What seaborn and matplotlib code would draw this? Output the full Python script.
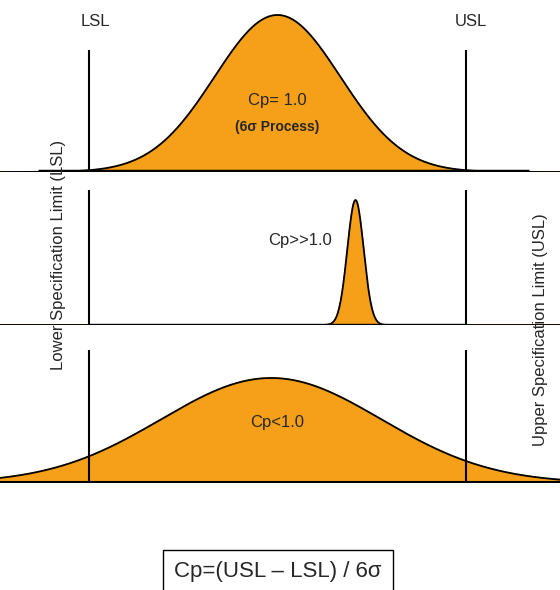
import numpy as np
import pandas as pd
import seaborn as sns
import matplotlib.pyplot as plt

sns.set_style("white")
plt.rcParams['font.family'] = ['Liberation Sans', 'DejaVu Sans']

# spec limits in sigma units of the 6-sigma process
lsl, usl = -3.0, 3.0
labels = ["Cp= 1.0\n(6σ Process)", "Cp>>1.0", "Cp<1.0"]
means = [0.0, 1.24, -0.1]
sigmas = [1.0, 0.13, 1.75]
peaks = [157, 125, 105]          # curve height in each panel's units
panel_tops = [172, 145, 148]
label_pos = [(0.0, 70), (0.35, 85), (0.0, 60)]
x_range = (-4.41, 4.49)

orange = "#F6A01A"
fig = plt.figure(figsize=(5.6, 5.9), dpi=100)
H = 590.0
boxes = [(0, 172), (180, 325), (335, 483)]
x = np.linspace(x_range[0], x_range[1], 800)

for i, (top, bot) in enumerate(boxes):
    ax = fig.add_axes([0, 1 - bot / H, 1, (bot - top) / H])
    y = peaks[i] * np.exp(-0.5 * ((x - means[i]) / sigmas[i]) ** 2)
    df = pd.DataFrame({"x": x, "y": y})
    ax.fill_between(df.x, df.y, color=orange, zorder=1)
    sns.lineplot(data=df, x="x", y="y", ax=ax, color="black", lw=1.3, zorder=2)
    ax.set_xlim(*x_range)
    ax.set_ylim(0, panel_tops[i])
    ax.axis("off")
    vtop = panel_tops[i] - [50, 10, 15][i]
    ax.vlines([lsl, usl], 0, vtop, color="black", lw=1.5, zorder=3)
    base = [(-3.8, 4.0, 2.5), (lsl, usl, 1.0), (x_range[0], x_range[1], 1.5)][i]
    ax.hlines(0.8, base[0], base[1], color="black", lw=base[2], zorder=3)
    tx, ty = label_pos[i]
    if i == 0:
        ax.text(0.0, 72, "Cp= 1.0", ha="center", va="center", fontsize=12)
        ax.text(0.0, 45, "(6σ Process)", ha="center", va="center", fontsize=10, fontweight="bold")
        ax.text(lsl + 0.1, 150, "LSL", ha="center", va="center", fontsize=12)
        ax.text(usl + 0.08, 150, "USL", ha="center", va="center", fontsize=12)
    else:
        ax.text(tx, ty, labels[i], ha="center", va="center", fontsize=12)

fig.text(58 / 560, 1 - 255 / H, "Lower Specification Limit (LSL)", rotation=90,
         ha="center", va="center", fontsize=12)
fig.text(540 / 560, 1 - 330 / H, "Upper Specification Limit (USL)", rotation=90,
         ha="center", va="center", fontsize=12)
fig.text(278 / 560, 1 - 572 / H, "Cp=(USL – LSL) / 6σ", ha="center", va="center",
         fontsize=16, bbox=dict(boxstyle="square,pad=0.5", fc="white", ec="black", lw=1))

fig.savefig("out.png", dpi=100)
